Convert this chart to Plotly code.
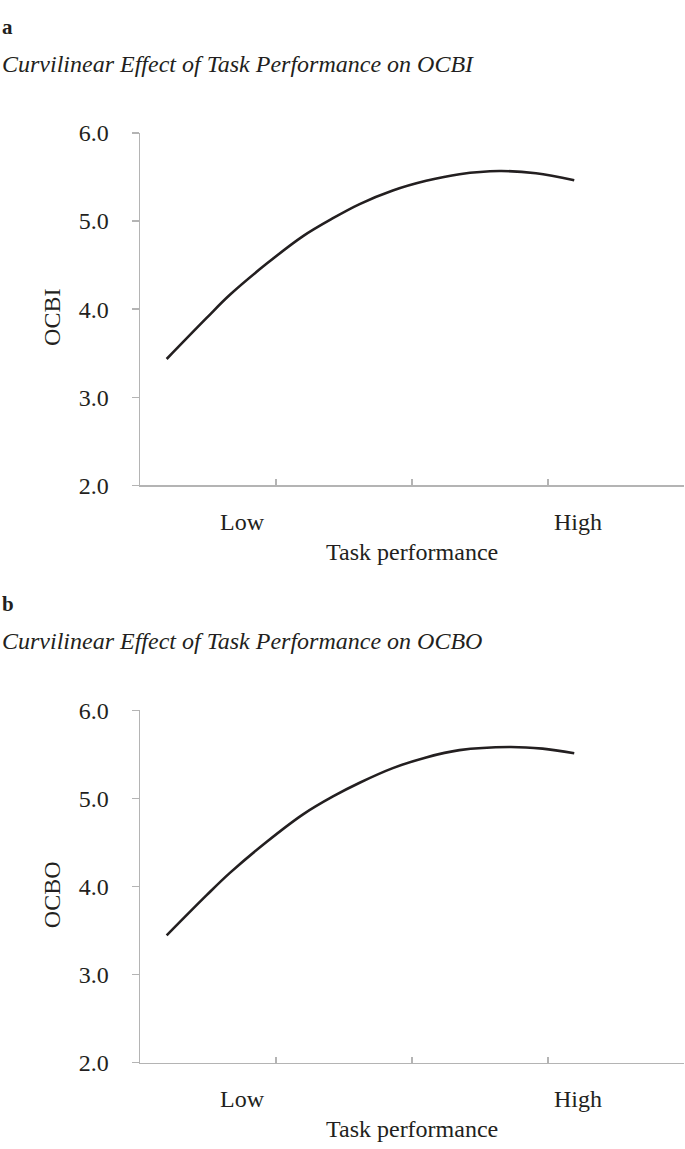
import plotly.graph_objects as go

# ---- data ----
x_ticks = [0, 1, 2, 3, 4]
y_ticks = [2.0, 3.0, 4.0, 5.0, 6.0]
y_ticktext = ["2.0", "3.0", "4.0", "5.0", "6.0"]
x_label_pos = [0.754, 3.222]
x_label_text = ["Low", "High"]

ocbi_x = [0.196, 0.49, 0.661, 0.930, 1.199, 1.419, 1.615, 1.859, 2.104, 2.349, 2.642, 2.912, 3.193]
ocbi_y = [3.434, 3.900, 4.163, 4.514, 4.829, 5.032, 5.192, 5.346, 5.456, 5.531, 5.567, 5.542, 5.464]

ocbo_x = [0.196, 0.49, 0.661, 0.930, 1.199, 1.419, 1.615, 1.859, 2.104, 2.349, 2.716, 2.960, 3.193]
ocbo_y = [3.444, 3.900, 4.153, 4.504, 4.818, 5.021, 5.176, 5.342, 5.464, 5.546, 5.582, 5.563, 5.512]

panels = [
    dict(letter="a", title="Curvilinear Effect of Task Performance on OCBI", ytitle="OCBI",
         x=ocbi_x, y=ocbi_y),
    dict(letter="b", title="Curvilinear Effect of Task Performance on OCBO", ytitle="OCBO",
         x=ocbo_x, y=ocbo_y),
]

W, H = 685, 1149
FONT = "Liberation Serif"
TXT = "#231f20"
AXC = "#b4b4b4"


def py(p):
    return 1 - p / H


fig = go.Figure()
layout = dict(
    width=W, height=H, margin=dict(l=0, r=0, t=0, b=0),
    paper_bgcolor="white", plot_bgcolor="white", showlegend=False,
    font=dict(family=FONT, size=24, color=TXT),
)
annotations = []
offsets = [0.0, 590.6]
for i, (p, off) in enumerate(zip(panels, offsets)):
    n = "" if i == 0 else str(i + 1)
    top, bot = 122.7 + off, 483.3 + off
    fig.add_trace(go.Scatter(x=p["x"], y=p["y"], mode="lines",
                             line=dict(color=TXT, width=2.6, shape="spline"),
                             xaxis="x" + n, yaxis="y" + n, hoverinfo="skip"))
    layout["xaxis" + n] = dict(
        domain=[140 / W, 684 / W], range=[0, 4], anchor="y" + n,
        tickvals=x_ticks, showticklabels=False, ticks="inside", ticklen=6,
        tickcolor=AXC, tickwidth=1.3, showline=True, linecolor=AXC, linewidth=1.5,
        showgrid=False, zeroline=False, fixedrange=True)
    layout["yaxis" + n] = dict(
        domain=[py(bot), py(top)], range=[2, 6], anchor="x" + n,
        tickvals=y_ticks, ticktext=y_ticktext, ticks="outside", ticklen=7,
        tickcolor=AXC, tickwidth=1.3, showline=True, linecolor=AXC, linewidth=1.5,
        showgrid=False, zeroline=False, fixedrange=True, ticklabelstandoff=18,
        tickfont=dict(family=FONT, size=24, color=TXT))
    annotations.append(dict(text="<b>" + p["letter"] + "</b>", x=0, y=py(14 + off),
                            xref="paper", yref="paper", xanchor="left", yanchor="middle",
                            showarrow=False, font=dict(family=FONT, size=21, color=TXT)))
    annotations.append(dict(text="<i>" + p["title"] + "</i>", x=0, y=py(52 + off),
                            xref="paper", yref="paper", xanchor="left", yanchor="middle",
                            showarrow=False, font=dict(family=FONT, size=24, color=TXT)))
    annotations.append(dict(text=p["ytitle"], x=52 / W, y=py(312 + off), textangle=-90,
                            xref="paper", yref="paper", xanchor="center", yanchor="middle",
                            showarrow=False, font=dict(family=FONT, size=24, color=TXT)))
    for xv, tx in zip(x_label_pos, x_label_text):
        annotations.append(dict(text=tx, x=xv, y=py(521 + off), xref="x" + n, yref="paper",
                                xanchor="center", yanchor="middle", showarrow=False,
                                font=dict(family=FONT, size=24, color=TXT)))
    annotations.append(dict(text="Task performance", x=2, y=py(551 + off), xref="x" + n,
                            yref="paper", xanchor="center", yanchor="middle", showarrow=False,
                            font=dict(family=FONT, size=24, color=TXT)))

layout["annotations"] = annotations
fig.update_layout(**layout)
fig.write_html("out.html", config={"displayModeBar": False, "staticPlot": True},
               post_script="document.body.style.margin='0';document.body.style.padding='0';"
                           "document.body.style.overflow='hidden';")
